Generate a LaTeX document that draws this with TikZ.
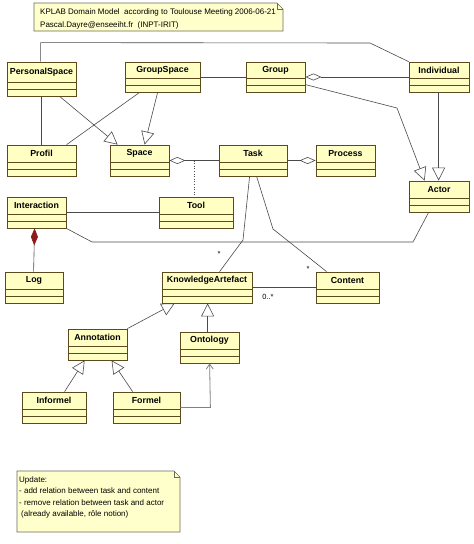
\documentclass[tikz,border=0pt]{standalone}
\usepackage{fontspec}
\setmainfont{Liberation Sans}
\usetikzlibrary{arrows.meta,calc,fit}
\definecolor{clsfill}{HTML}{FFFFC4}
\definecolor{clsdraw}{HTML}{5C4A1E}
\definecolor{notefill}{HTML}{FFFFCC}
\definecolor{notedraw}{HTML}{6A6A5A}
\definecolor{lnkc}{HTML}{4A4A4A}
\definecolor{compc}{HTML}{8B1A1A}
\newcommand\kcls[6]{%
  \node[clsbox, fit={(#2,#3) (#4,#5)}] (#1) {};
  \draw[clsdraw, line width=0.9pt] ($(#1.south west)+(0,-14)$) -- ($(#1.south east)+(0,-14)$);
  \draw[clsdraw, line width=0.5pt] ($(#1.south west)+(0,-7)$) -- ($(#1.south east)+(0,-7)$);
  \pgfmathsetmacro\kx{(#2+#4)/2}%
  \pgfmathsetmacro\ky{(#3+#5-14)/2}%
  \node[clsname] (#1-name) at (\kx,\ky) {#6};
}
\begin{document}
\begin{tikzpicture}[x=1pt,y=-1pt,
  clsbox/.style={draw=clsdraw, fill=clsfill, line width=0.8pt, inner sep=0pt},
  clsname/.style={font=\fontsize{8.8}{10}\selectfont\bfseries, inner sep=0pt},
  notebox/.style={draw=notedraw, fill=notefill, line width=0.6pt},
  notetxt/.style={font=\fontsize{8}{9}\selectfont, inner sep=0pt, anchor=base west},
  lnk/.style={draw=lnkc, line width=0.6pt},
  gen/.style={lnk, -{Triangle[open, length=13pt, width=13pt]}},
  agg/.style={lnk, -{Diamond[open, length=16pt, width=7pt]}},
  compo/.style={lnk, -{Diamond[length=17pt, width=7pt, fill=compc, color=compc]}},
  nav/.style={draw=gray, line width=0.8pt, -{Straight Barb[length=5pt, width=7pt]}},
  mult/.style={font=\fontsize{7.5}{8}\selectfont, inner sep=0pt}]
\useasboundingbox[fill=white] (0,0) rectangle (474,544);

% notes
\draw[notebox] (34,3) -- (277,3) -- (283,9) -- (283,31) -- (34,31) -- cycle;
\draw[notedraw, line width=0.6pt] (277,3) -- (277,9) -- (283,9);
\node[notetxt] (n1) at (40,14) {KPLAB Domain Model\ \ according to Toulouse Meeting 2006-06-21};
\node[notetxt] (n2) at (40,27) {Pascal.Dayre@enseeiht.fr\ \ (INPT-IRIT)};

\draw[notebox] (17,471) -- (174,471) -- (180,477) -- (180,532) -- (17,532) -- cycle;
\draw[notedraw, line width=0.6pt] (174,471) -- (174,477) -- (180,477);
\node[notetxt] (u1) at (19,482) {Update:};
\node[notetxt] (u2) at (19,493.5) {- add relation between task and content};
\node[notetxt] (u3) at (19,505) {- remove relation between task and actor};
\node[notetxt] (u4) at (19,516.5) {\hspace{2pt}(already available, rôle notion)};

% classes
\kcls{PS}{7}{62}{76}{96}{PersonalSpace}
\kcls{GS}{125}{62}{200}{92}{GroupSpace}
\kcls{Grp}{246}{62}{305}{92}{Group}
\kcls{Ind}{409}{62}{469}{92}{Individual}
\kcls{Prof}{7}{145}{76}{176}{Profil}
\kcls{Sp}{110}{145}{169}{176}{Space}
\kcls{Task}{219}{145}{287}{176}{Task}
\kcls{Proc}{316}{145}{375}{176}{Process}
\kcls{Act}{409}{181}{469}{212}{Actor}
\kcls{Inter}{7}{197}{66}{228}{Interaction}
\kcls{Tool}{159}{197}{233}{228}{Tool}
\kcls{Log}{5}{272}{63}{303}{Log}
\kcls{KA}{162}{272}{252}{303}{KnowledgeArtefact}
\kcls{Cont}{316}{272}{379}{303}{Content}
\kcls{Ann}{68}{329}{127}{360}{Annotation}
\kcls{Ont}{180}{332}{239}{363}{Ontology}
\kcls{Inf}{22}{392}{86}{423}{Informel}
\kcls{For}{113}{392}{180}{423}{Formel}

% connectors
\draw[lnk] ($(PS.north west)+(34,0)$) -- ($(PS.north west)+(34,-19)$) -- (370,43) -- (Ind.north west);
\draw[lnk] (GS.east) -- (Grp.west);
\draw[agg] (Ind.west) -- (Grp.east);
\draw[gen] ($(Grp.north east)+(0,23)$) -- (397,108) -- ($(Act.north west)+(16,0)$);
\draw[gen] ($(Ind.south west)+(30,0)$) -- ($(Act.north west)+(30,0)$);
\draw[gen] ($(PS.south west)+(53,0)$) -- ($(Sp.north west)+(8,0)$);
\draw[lnk] ($(PS.south west)+(35,0)$) -- ($(Prof.north west)+(35,0)$);
\draw[lnk] ($(GS.south west)+(15,0)$) -- ($(Prof.north west)+(60,0)$);
\draw[gen] ($(GS.south west)+(33,0)$) -- ($(Sp.north west)+(35,0)$);
\draw[agg] (Task.west) -- (Sp.east);
\coordinate (sptk) at ($(Sp.east)!0.5!(Task.west)$);
\draw[draw=lnkc, line width=0.6pt, dotted] (sptk) -- (sptk |- Tool.north);
\draw[agg] (Task.east) -- (Proc.west);
\draw[lnk] (Inter.east) -- (Tool.west);
\draw[lnk] (Inter.south east) -- (92,242) -- (413,242) -- ($(Act.south west)+(20,0)$);
\draw[compo] ($(Log.north west)+(29,0)$) -- ($(Inter.south west)+(28,0)$);
\draw[lnk] ($(Task.south west)+(31,0)$) -- (243,240) -- ($(KA.north west)+(58,0)$);
\draw[lnk] ($(Task.south west)+(38,0)$) -- (273,229) -- ($(Cont.north west)+(11,0)$);
\draw[lnk] (KA.east) -- (Cont.west);
\node[mult] (m1) at (219,254) {*};
\node[mult] (m2) at (308,269) {*};
\node[mult] (m3) at (268,297) {0..*};
\draw[gen] (Ann.north east) -- ($(KA.south west)+(13,0)$);
\draw[gen] ($(Ont.north west)+(28,0)$) -- ($(KA.south west)+(46,0)$);
\draw[gen] ($(Inf.north west)+(43,0)$) -- ($(Ann.south west)+(17,0)$);
\draw[gen] ($(For.north west)+(20,0)$) -- ($(Ann.south west)+(44,0)$);
\draw[nav] (For.east) -- ($(For.east)+(30,0)$) -- ($(Ont.south west)+(30,0)$);
\end{tikzpicture}
\end{document}
